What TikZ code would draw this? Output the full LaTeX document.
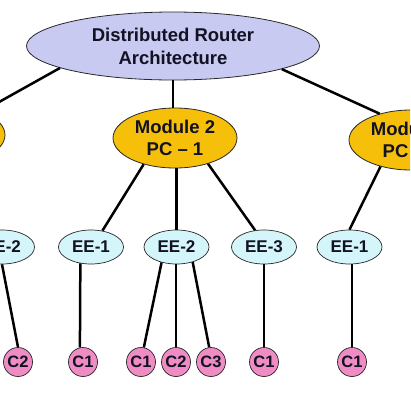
\documentclass[tikz,border=0pt]{standalone}
\usepackage{fontspec}
\setmainfont{Liberation Sans}
\usetikzlibrary{shapes.geometric}
\definecolor{topfill}{RGB}{200,202,242}
\definecolor{modfill}{RGB}{246,192,10}
\definecolor{eefill}{RGB}{212,246,250}
\definecolor{cfill}{RGB}{240,140,196}
\definecolor{txt}{RGB}{18,18,36}
\definecolor{edge}{RGB}{40,40,40}
\tikzset{
  topnode/.style={ellipse,draw=edge,line width=0.8pt,fill=topfill,minimum width=293pt,minimum height=68pt,inner sep=0pt,align=center,font=\fontsize{18.5}{23}\selectfont\bfseries,text=txt},
  modnode/.style={ellipse,draw=edge,line width=0.8pt,fill=modfill,minimum width=124pt,minimum height=60pt,inner sep=0pt,align=center,font=\fontsize{18.5}{22}\selectfont\bfseries,text=txt},
  eenode/.style={ellipse,draw=edge,line width=0.7pt,fill=eefill,minimum width=65pt,minimum height=34pt,inner sep=0pt,font=\fontsize{17}{20}\selectfont\bfseries,text=txt},
  cnode/.style={circle,draw=edge,line width=0.7pt,fill=cfill,minimum size=29pt,inner sep=0pt,font=\fontsize{16.5}{20}\selectfont\bfseries,text=txt},
  link/.style={draw=black,line width=2.5pt}
}
\begin{document}
\begin{tikzpicture}[x=1pt,y=-1pt]
\useasboundingbox (0,0) rectangle (410,410);
\clip (0,0) rectangle (410,410);
\fill[white] (0,0) rectangle (410,410);
% nodes
\node[topnode] (top) at (173,46) {Distributed Router\\Architecture};
\node[modnode] (mod1) at (-57,135) {Module 1\\PC -- 1};
\node[modnode] (mod2) at (175,138) {Module 2\\PC -- 1};
\node[modnode] (mod3) at (411,140) {Module 3\\PC -- 1};
\node[eenode] (ee12) at (2,247) {EE-2};
\node[eenode] (ee21) at (91,247) {EE-1};
\node[eenode] (ee22) at (176.5,247) {EE-2};
\node[eenode] (ee23) at (264,247) {EE-3};
\node[eenode] (ee31) at (349.5,247) {EE-1};
\node[cnode] (c12) at (18,362) {C2};
\node[cnode] (c211) at (83,362) {C1};
\node[cnode] (c221) at (141,362) {C1};
\node[cnode] (c222) at (176,362) {C2};
\node[cnode] (c223) at (211,362) {C3};
\node[cnode] (c231) at (264,362) {C1};
\node[cnode] (c311) at (352,362) {C1};
% connectors
\draw[link] (top.191.5) -- (mod1.31);
\draw[link] (top.south) -- (top.south |- mod2.north);
\draw[link] (top.348.9) -- (mod3.140.5);
\draw[link] (mod2.220) -- (ee21.55);
\draw[link] (ee22.north |- mod2.south) -- (ee22.north);
\draw[link] (mod2.322.4) -- (ee23.118);
\draw[link] (mod3.221.5) -- (ee31.north);
\draw[link] (ee12.south) -- (c12.north);
\draw[link] (ee21.237) -- (c211.102);
\draw[link] (ee22.226) -- (c221.79);
\draw[link] (c222.north |- ee22.south) -- (c222.north);
\draw[link] (ee22.317) -- (c223.97.6);
\draw[link] (ee23.south) -- (c231.north);
\draw[link] (c311.north |- ee31.south) -- (c311.north);
\end{tikzpicture}
\end{document}
